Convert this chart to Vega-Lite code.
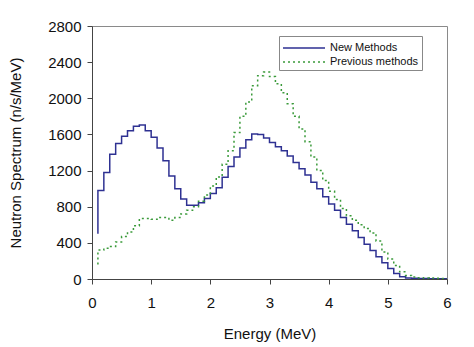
{
  "$schema": "https://vega.github.io/schema/vega-lite/v6.json",
  "width": 355,
  "height": 253,
  "autosize": "none",
  "padding": {"left": 92, "top": 26, "right": 27, "bottom": 68},
  "background": "white",
  "config": {
    "font": "Liberation Sans",
    "view": {"stroke": "#8a8a8a", "strokeWidth": 1},
    "axis": {"grid": false, "domainColor": "#444", "tickColor": "#444", "labelColor": "#111", "titleColor": "#111", "labelFont": "Liberation Sans", "titleFont": "Liberation Sans", "labelFontSize": 15, "titleFontSize": 15, "titleFontWeight": "normal", "tickSize": 5}
  },
  "data": {"values": [
    {"series":"New Methods","i":0,"e":0.1,"v":500},
    {"series":"New Methods","i":1,"e":0.1,"v":980},
    {"series":"New Methods","i":2,"e":0.2,"v":1180},
    {"series":"New Methods","i":3,"e":0.3,"v":1380},
    {"series":"New Methods","i":4,"e":0.4,"v":1500},
    {"series":"New Methods","i":5,"e":0.5,"v":1580},
    {"series":"New Methods","i":6,"e":0.6,"v":1640},
    {"series":"New Methods","i":7,"e":0.7,"v":1690},
    {"series":"New Methods","i":8,"e":0.8,"v":1705},
    {"series":"New Methods","i":9,"e":0.9,"v":1640},
    {"series":"New Methods","i":10,"e":1.0,"v":1570},
    {"series":"New Methods","i":11,"e":1.1,"v":1450},
    {"series":"New Methods","i":12,"e":1.2,"v":1310},
    {"series":"New Methods","i":13,"e":1.3,"v":1140},
    {"series":"New Methods","i":14,"e":1.4,"v":1000},
    {"series":"New Methods","i":15,"e":1.5,"v":885},
    {"series":"New Methods","i":16,"e":1.6,"v":815},
    {"series":"New Methods","i":17,"e":1.7,"v":815},
    {"series":"New Methods","i":18,"e":1.8,"v":845},
    {"series":"New Methods","i":19,"e":1.9,"v":890},
    {"series":"New Methods","i":20,"e":2.0,"v":945},
    {"series":"New Methods","i":21,"e":2.1,"v":1010},
    {"series":"New Methods","i":22,"e":2.2,"v":1125},
    {"series":"New Methods","i":23,"e":2.3,"v":1245},
    {"series":"New Methods","i":24,"e":2.4,"v":1350},
    {"series":"New Methods","i":25,"e":2.5,"v":1450},
    {"series":"New Methods","i":26,"e":2.6,"v":1540},
    {"series":"New Methods","i":27,"e":2.7,"v":1605},
    {"series":"New Methods","i":28,"e":2.8,"v":1600},
    {"series":"New Methods","i":29,"e":2.9,"v":1560},
    {"series":"New Methods","i":30,"e":3.0,"v":1510},
    {"series":"New Methods","i":31,"e":3.1,"v":1465},
    {"series":"New Methods","i":32,"e":3.2,"v":1420},
    {"series":"New Methods","i":33,"e":3.3,"v":1360},
    {"series":"New Methods","i":34,"e":3.4,"v":1290},
    {"series":"New Methods","i":35,"e":3.5,"v":1220},
    {"series":"New Methods","i":36,"e":3.6,"v":1150},
    {"series":"New Methods","i":37,"e":3.7,"v":1070},
    {"series":"New Methods","i":38,"e":3.8,"v":1000},
    {"series":"New Methods","i":39,"e":3.9,"v":910},
    {"series":"New Methods","i":40,"e":4.0,"v":830},
    {"series":"New Methods","i":41,"e":4.1,"v":760},
    {"series":"New Methods","i":42,"e":4.2,"v":680},
    {"series":"New Methods","i":43,"e":4.3,"v":605},
    {"series":"New Methods","i":44,"e":4.4,"v":535},
    {"series":"New Methods","i":45,"e":4.5,"v":460},
    {"series":"New Methods","i":46,"e":4.6,"v":385},
    {"series":"New Methods","i":47,"e":4.7,"v":315},
    {"series":"New Methods","i":48,"e":4.8,"v":245},
    {"series":"New Methods","i":49,"e":4.9,"v":180},
    {"series":"New Methods","i":50,"e":5.0,"v":115},
    {"series":"New Methods","i":51,"e":5.1,"v":60},
    {"series":"New Methods","i":52,"e":5.2,"v":25},
    {"series":"New Methods","i":53,"e":5.3,"v":12},
    {"series":"New Methods","i":54,"e":5.4,"v":8},
    {"series":"New Methods","i":55,"e":5.5,"v":6},
    {"series":"New Methods","i":56,"e":5.6,"v":5},
    {"series":"New Methods","i":57,"e":5.7,"v":4},
    {"series":"New Methods","i":58,"e":5.8,"v":3},
    {"series":"New Methods","i":59,"e":5.9,"v":3},
    {"series":"New Methods","i":60,"e":6.0,"v":3},
    {"series":"Previous methods","i":0,"e":0.1,"v":160},
    {"series":"Previous methods","i":1,"e":0.1,"v":320},
    {"series":"Previous methods","i":2,"e":0.2,"v":340},
    {"series":"Previous methods","i":3,"e":0.3,"v":360},
    {"series":"Previous methods","i":4,"e":0.4,"v":410},
    {"series":"Previous methods","i":5,"e":0.5,"v":470},
    {"series":"Previous methods","i":6,"e":0.6,"v":520},
    {"series":"Previous methods","i":7,"e":0.7,"v":590},
    {"series":"Previous methods","i":8,"e":0.8,"v":670},
    {"series":"Previous methods","i":9,"e":0.9,"v":670},
    {"series":"Previous methods","i":10,"e":1.0,"v":660},
    {"series":"Previous methods","i":11,"e":1.1,"v":680},
    {"series":"Previous methods","i":12,"e":1.2,"v":680},
    {"series":"Previous methods","i":13,"e":1.3,"v":650},
    {"series":"Previous methods","i":14,"e":1.4,"v":680},
    {"series":"Previous methods","i":15,"e":1.5,"v":720},
    {"series":"Previous methods","i":16,"e":1.6,"v":760},
    {"series":"Previous methods","i":17,"e":1.7,"v":800},
    {"series":"Previous methods","i":18,"e":1.8,"v":860},
    {"series":"Previous methods","i":19,"e":1.9,"v":930},
    {"series":"Previous methods","i":20,"e":2.0,"v":1030},
    {"series":"Previous methods","i":21,"e":2.1,"v":1130},
    {"series":"Previous methods","i":22,"e":2.2,"v":1270},
    {"series":"Previous methods","i":23,"e":2.3,"v":1420},
    {"series":"Previous methods","i":24,"e":2.4,"v":1620},
    {"series":"Previous methods","i":25,"e":2.5,"v":1800},
    {"series":"Previous methods","i":26,"e":2.6,"v":1960},
    {"series":"Previous methods","i":27,"e":2.7,"v":2140},
    {"series":"Previous methods","i":28,"e":2.8,"v":2250},
    {"series":"Previous methods","i":29,"e":2.9,"v":2290},
    {"series":"Previous methods","i":30,"e":3.0,"v":2240},
    {"series":"Previous methods","i":31,"e":3.1,"v":2160},
    {"series":"Previous methods","i":32,"e":3.2,"v":2060},
    {"series":"Previous methods","i":33,"e":3.3,"v":1940},
    {"series":"Previous methods","i":34,"e":3.4,"v":1800},
    {"series":"Previous methods","i":35,"e":3.5,"v":1660},
    {"series":"Previous methods","i":36,"e":3.6,"v":1520},
    {"series":"Previous methods","i":37,"e":3.7,"v":1350},
    {"series":"Previous methods","i":38,"e":3.8,"v":1200},
    {"series":"Previous methods","i":39,"e":3.9,"v":1090},
    {"series":"Previous methods","i":40,"e":4.0,"v":970},
    {"series":"Previous methods","i":41,"e":4.1,"v":880},
    {"series":"Previous methods","i":42,"e":4.2,"v":780},
    {"series":"Previous methods","i":43,"e":4.3,"v":700},
    {"series":"Previous methods","i":44,"e":4.4,"v":650},
    {"series":"Previous methods","i":45,"e":4.5,"v":600},
    {"series":"Previous methods","i":46,"e":4.6,"v":560},
    {"series":"Previous methods","i":47,"e":4.7,"v":510},
    {"series":"Previous methods","i":48,"e":4.8,"v":420},
    {"series":"Previous methods","i":49,"e":4.9,"v":300},
    {"series":"Previous methods","i":50,"e":5.0,"v":220},
    {"series":"Previous methods","i":51,"e":5.1,"v":150},
    {"series":"Previous methods","i":52,"e":5.2,"v":80},
    {"series":"Previous methods","i":53,"e":5.3,"v":40},
    {"series":"Previous methods","i":54,"e":5.4,"v":22},
    {"series":"Previous methods","i":55,"e":5.5,"v":15},
    {"series":"Previous methods","i":56,"e":5.6,"v":12},
    {"series":"Previous methods","i":57,"e":5.7,"v":10},
    {"series":"Previous methods","i":58,"e":5.8,"v":8},
    {"series":"Previous methods","i":59,"e":5.9,"v":6},
    {"series":"Previous methods","i":60,"e":6.0,"v":6}
  ]},
  "mark": {"type": "line", "interpolate": "step-after", "strokeWidth": 1.5, "clip": true},
  "encoding": {
    "x": {"field": "e", "type": "quantitative", "title": "Energy (MeV)",
      "scale": {"domain": [0, 6], "nice": false},
      "axis": {"values": [0,1,2,3,4,5,6], "labelPadding": 11, "titlePadding": 16, "labelFlush": false}},
    "y": {"field": "v", "type": "quantitative", "title": "Neutron Spectrum (n/s/MeV)",
      "scale": {"domain": [0, 2800], "nice": false},
      "axis": {"values": [0,400,800,1200,1600,2000,2400,2800], "format": "d", "labelPadding": 6, "titlePadding": 24}},
    "order": {"field": "i", "type": "quantitative"},
    "color": {"field": "series", "type": "nominal",
      "scale": {"domain": ["New Methods", "Previous methods"], "range": ["#2e3192", "#3a9a3a"]},
      "legend": {"title": null, "orient": "none", "legendX": 187, "legendY": 10,
        "symbolType": "M-1,0H4.25", "symbolSize": 256, "symbolStrokeWidth": 1.5,
        "labelFontSize": 11, "labelFont": "Liberation Sans", "labelColor": "#111", "labelOffset": 30,
        "strokeColor": "#888", "padding": 3, "rowPadding": 0, "fillColor": "white"}},
    "strokeDash": {"field": "series", "type": "nominal",
      "scale": {"domain": ["New Methods", "Previous methods"], "range": [[1, 0], [2, 3]]},
      "legend": {"title": null, "orient": "none", "legendX": 187, "legendY": 10,
        "symbolType": "M-1,0H4.25", "symbolSize": 256, "symbolStrokeWidth": 1.5,
        "labelFontSize": 11, "labelFont": "Liberation Sans", "labelColor": "#111", "labelOffset": 30,
        "strokeColor": "#888", "padding": 3, "rowPadding": 0, "fillColor": "white"}}
  }
}
